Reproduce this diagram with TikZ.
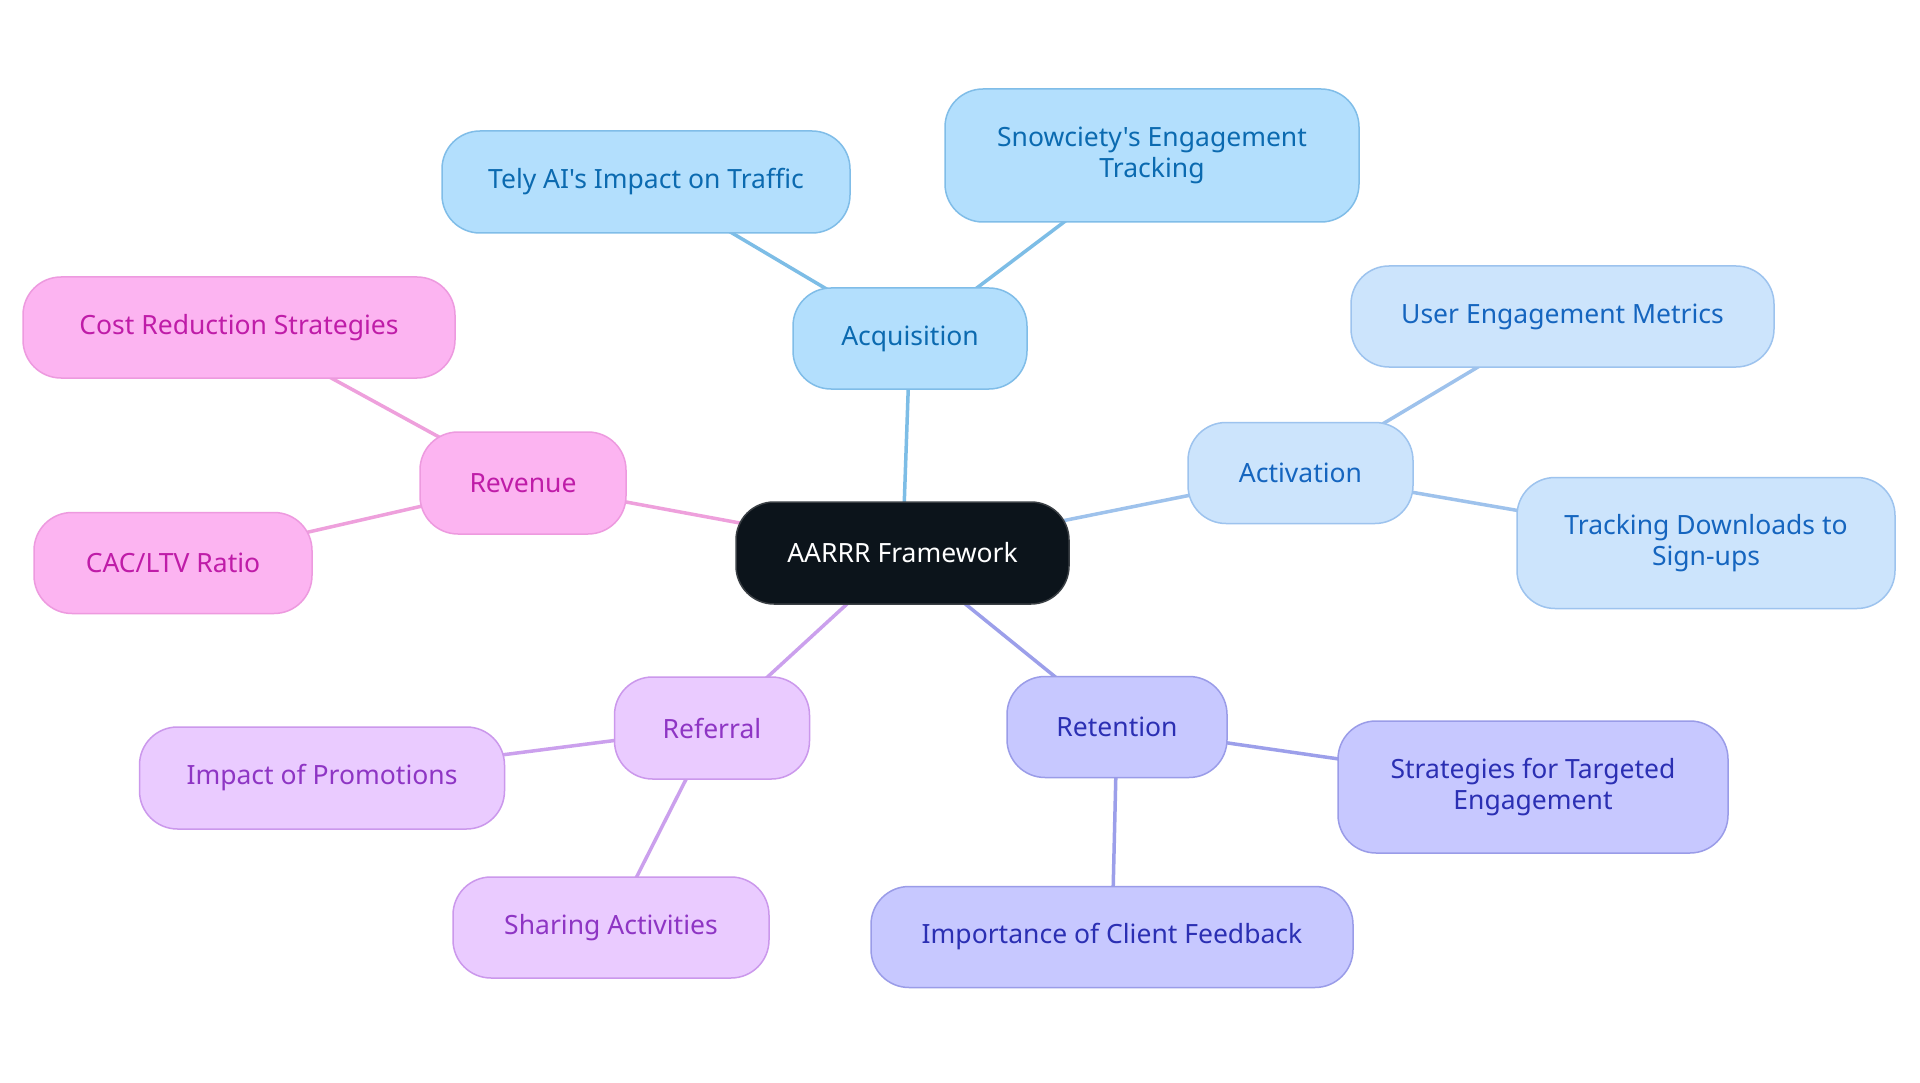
\documentclass[tikz,border=0pt]{standalone}
\usepackage{fontspec}
\setmainfont{Noto Sans}[Ligatures=TeXOff]
\usetikzlibrary{backgrounds}
\definecolor{acqF}{HTML}{B3DFFD}\definecolor{acqD}{HTML}{80BDE8}\definecolor{acqT}{HTML}{0B6AB0}\definecolor{acqE}{HTML}{7DBDE6}
\definecolor{actF}{HTML}{CCE4FC}\definecolor{actD}{HTML}{9DC3EE}\definecolor{actT}{HTML}{1565BF}\definecolor{actE}{HTML}{9EC2EC}
\definecolor{retF}{HTML}{C7C8FF}\definecolor{retD}{HTML}{9A9CE8}\definecolor{retT}{HTML}{2B2FB3}\definecolor{retE}{HTML}{9C9FEA}
\definecolor{refF}{HTML}{EACBFF}\definecolor{refD}{HTML}{CB98EC}\definecolor{refT}{HTML}{8E35C4}\definecolor{refE}{HTML}{CBA0ED}
\definecolor{revF}{HTML}{FCB4F1}\definecolor{revD}{HTML}{ED9ADF}\definecolor{revT}{HTML}{BF1CA8}\definecolor{revE}{HTML}{EEA0DC}
\definecolor{ctrF}{HTML}{0C141B}\definecolor{ctrD}{HTML}{3A3F44}
\begin{document}
\begin{tikzpicture}[x=1pt,y=-1pt,
  box/.style={draw, line width=1.5pt, rounded corners=38pt, inner sep=0pt, align=center,
    font=\fontsize{26.5}{31}\selectfont},
  acq/.style={box, fill=acqF, draw=acqD, text=acqT},
  act/.style={box, fill=actF, draw=actD, text=actT},
  ret/.style={box, fill=retF, draw=retD, text=retT},
  ref/.style={box, fill=refF, draw=refD, text=refT},
  rev/.style={box, fill=revF, draw=revD, text=revT},
  ctr/.style={box, fill=ctrF, draw=ctrD, text=white},
  link/.style={line width=3.5pt}]
\useasboundingbox (0,0) rectangle (1920,1083);
\node[ctr, minimum width=333pt, minimum height=102pt] (c) at (902.5,553) {AARRR Framework};
\node[acq, minimum width=234pt, minimum height=101pt] (acq) at (910,338.5) {Acquisition};
\node[acq, minimum width=408pt, minimum height=102pt] (tely) at (646,182) {Tely AI's Impact on Traffic};
\node[acq, minimum width=414pt, minimum height=133pt] (snow) at (1152,155.5) {Snowciety's Engagement\\Tracking};
\node[act, minimum width=225pt, minimum height=101pt] (act) at (1300.5,473) {Activation};
\node[act, minimum width=423pt, minimum height=101pt] (uem) at (1562.5,316.5) {User Engagement Metrics};
\node[act, minimum width=378pt, minimum height=131pt] (trk) at (1706,543) {Tracking Downloads to\\Sign-ups};
\node[ret, minimum width=220pt, minimum height=101pt] (ret) at (1117,727) {Retention};
\node[ret, minimum width=390pt, minimum height=132pt] (str) at (1533,787) {Strategies for Targeted\\Engagement};
\node[ret, minimum width=482pt, minimum height=101pt] (imp) at (1112,937) {Importance of Client Feedback};
\node[ref, minimum width=195pt, minimum height=102pt] (ref) at (712,728) {Referral};
\node[ref, minimum width=365pt, minimum height=102pt] (pro) at (322,778) {Impact of Promotions};
\node[ref, minimum width=316pt, minimum height=101pt] (sha) at (611,927.5) {Sharing Activities};
\node[rev, minimum width=206pt, minimum height=102pt] (rev) at (523,483) {Revenue};
\node[rev, minimum width=432pt, minimum height=101pt] (cost) at (239,327.5) {Cost Reduction Strategies};
\node[rev, minimum width=278pt, minimum height=101pt] (cac) at (173,563) {CAC/LTV Ratio};
\begin{pgfonlayer}{background}
\fill[white] (0,0) rectangle (1920,1083);
\draw[link, acqE] (c.center) -- (acq.center);
\draw[link, acqE] (acq.center) -- (tely.center);
\draw[link, acqE] (acq.center) -- (snow.center);
\draw[link, actE] (c.center) -- (act.center);
\draw[link, actE] (act.center) -- (uem.center);
\draw[link, actE] (act.center) -- (trk.center);
\draw[link, retE] (c.center) -- (ret.center);
\draw[link, retE] (ret.center) -- (str.center);
\draw[link, retE] (ret.center) -- (imp.center);
\draw[link, refE] (c.center) -- (ref.center);
\draw[link, refE] (ref.center) -- (pro.center);
\draw[link, refE] (ref.center) -- (sha.center);
\draw[link, revE] (c.center) -- (rev.center);
\draw[link, revE] (rev.center) -- (cost.center);
\draw[link, revE] (rev.center) -- (cac.center);
\end{pgfonlayer}
\end{tikzpicture}
\end{document}
